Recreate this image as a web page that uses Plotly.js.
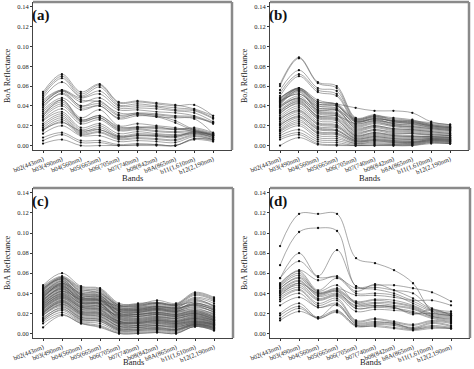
<!DOCTYPE html>
<html>
<head>
<meta charset="utf-8">
<script src="https://cdn.plot.ly/plotly-3.0.1.min.js"></script>
<style>html,body{margin:0;padding:0;background:#fff;}#chart{width:474px;height:369px;}</style>
</head>
<body>
<div id="chart"></div>
<script>
var bandLabels = ["b02(443nm)","b03(490nm)","b04(560nm)","b05(665nm)","b06(705nm)","b07(740nm)","b08(842nm)","b8A(865nm)","b11(1,610nm)","b12(2,190nm)"];
var panelLabels = ["(a)","(b)","(c)","(d)"];
var yTicks = [0,0.02,0.04,0.06,0.08,0.10,0.12,0.14];

var seriesA = [
[0.054,0.072,0.054,0.062,0.044,0.045,0.043,0.041,0.037,0.030],
[0.052,0.070,0.052,0.061,0.043,0.044,0.042,0.040,0.041,0.030],
[0.050,0.068,0.050,0.059,0.041,0.042,0.040,0.038,0.036,0.028],
[0.048,0.064,0.049,0.055,0.040,0.040,0.039,0.036,0.035,0.027],
[0.044,0.056,0.048,0.052,0.038,0.038,0.037,0.035,0.033,0.024],
[0.046,0.056,0.044,0.048,0.036,0.036,0.034,0.033,0.030,0.023],
[0.042,0.055,0.040,0.045,0.031,0.033,0.032,0.030,0.029,0.022],
[0.040,0.052,0.038,0.040,0.028,0.032,0.030,0.025,0.016,0.012],
[0.036,0.048,0.036,0.040,0.027,0.030,0.029,0.023,0.015,0.011],
[0.034,0.046,0.028,0.036,0.020,0.022,0.020,0.018,0.014,0.010],
[0.032,0.044,0.026,0.030,0.018,0.019,0.018,0.017,0.017,0.012],
[0.030,0.042,0.025,0.028,0.017,0.018,0.017,0.016,0.016,0.011],
[0.028,0.040,0.024,0.028,0.016,0.017,0.015,0.014,0.015,0.010],
[0.026,0.037,0.022,0.026,0.015,0.016,0.014,0.013,0.014,0.011],
[0.025,0.034,0.018,0.022,0.012,0.014,0.012,0.011,0.013,0.010],
[0.022,0.032,0.016,0.020,0.010,0.012,0.011,0.010,0.012,0.009],
[0.020,0.030,0.014,0.018,0.009,0.011,0.010,0.009,0.013,0.008],
[0.018,0.028,0.013,0.016,0.008,0.010,0.009,0.008,0.012,0.008],
[0.016,0.026,0.012,0.014,0.007,0.008,0.007,0.006,0.011,0.007],
[0.015,0.024,0.011,0.013,0.006,0.007,0.006,0.005,0.010,0.006],
[0.012,0.020,0.010,0.010,0.004,0.005,0.004,0.003,0.009,0.006],
[0.008,0.013,0.005,0.005,0.001,0.002,0.001,0.000,0.007,0.005],
[0.005,0.011,0.003,0.003,0.000,0.001,0.001,0.000,0.006,0.004],
[0.002,0.006,0.000,0.000,0.000,0.000,0.000,0.000,0.007,0.006],
[0.042,0.055,0.046,0.044,0.033,0.032,0.031,0.029,0.028,0.023],
[0.038,0.053,0.040,0.042,0.030,0.031,0.029,0.028,0.027,0.012],
[0.030,0.046,0.026,0.030,0.019,0.018,0.019,0.016,0.018,0.013],
[0.016,0.023,0.015,0.016,0.009,0.010,0.010,0.009,0.014,0.010]
];

var seriesB = [
[0.062,0.089,0.064,0.060,0.028,0.031,0.026,0.025,0.023,0.021],
[0.060,0.088,0.063,0.058,0.027,0.030,0.025,0.024,0.022,0.020],
[0.056,0.076,0.058,0.055,0.026,0.029,0.024,0.023,0.021,0.019],
[0.053,0.072,0.056,0.052,0.025,0.028,0.024,0.022,0.020,0.018],
[0.050,0.070,0.054,0.050,0.024,0.027,0.022,0.021,0.019,0.017],
[0.048,0.058,0.046,0.042,0.038,0.035,0.035,0.033,0.024,0.021],
[0.047,0.058,0.042,0.040,0.024,0.026,0.022,0.020,0.018,0.016],
[0.046,0.057,0.040,0.038,0.022,0.025,0.021,0.019,0.017,0.015],
[0.045,0.056,0.038,0.036,0.020,0.023,0.020,0.018,0.016,0.014],
[0.044,0.055,0.036,0.035,0.019,0.022,0.019,0.017,0.015,0.013],
[0.042,0.054,0.035,0.033,0.018,0.020,0.017,0.016,0.014,0.012],
[0.040,0.050,0.034,0.032,0.016,0.019,0.016,0.015,0.013,0.011],
[0.038,0.048,0.032,0.030,0.015,0.018,0.015,0.014,0.012,0.010],
[0.036,0.046,0.030,0.028,0.014,0.016,0.014,0.013,0.011,0.010],
[0.034,0.045,0.029,0.027,0.012,0.015,0.012,0.012,0.010,0.009],
[0.032,0.043,0.027,0.025,0.011,0.013,0.011,0.010,0.009,0.008],
[0.030,0.040,0.025,0.023,0.010,0.012,0.010,0.009,0.009,0.008],
[0.028,0.038,0.023,0.021,0.009,0.011,0.009,0.008,0.008,0.007],
[0.026,0.036,0.021,0.019,0.008,0.010,0.008,0.007,0.008,0.007],
[0.024,0.034,0.019,0.018,0.007,0.009,0.007,0.006,0.007,0.006],
[0.022,0.032,0.018,0.016,0.006,0.008,0.006,0.005,0.007,0.006],
[0.020,0.030,0.016,0.015,0.005,0.007,0.005,0.004,0.006,0.005],
[0.018,0.028,0.014,0.013,0.004,0.006,0.004,0.003,0.006,0.005],
[0.016,0.026,0.012,0.011,0.003,0.005,0.003,0.003,0.005,0.004],
[0.014,0.022,0.010,0.009,0.002,0.004,0.003,0.002,0.005,0.004],
[0.012,0.020,0.008,0.007,0.002,0.003,0.002,0.002,0.004,0.003],
[0.010,0.016,0.006,0.005,0.001,0.002,0.001,0.001,0.004,0.003],
[0.008,0.013,0.004,0.003,0.000,0.001,0.001,0.001,0.003,0.002],
[0.006,0.011,0.002,0.001,0.000,0.000,0.000,0.000,0.003,0.002],
[0.000,0.008,0.001,0.000,0.000,0.000,0.000,0.000,0.002,0.002],
[0.045,0.052,0.040,0.040,0.026,0.029,0.027,0.025,0.020,0.018],
[0.040,0.048,0.036,0.036,0.024,0.027,0.025,0.024,0.019,0.017],
[0.043,0.058,0.044,0.042,0.027,0.030,0.028,0.026,0.021,0.019],
[0.035,0.044,0.030,0.030,0.022,0.025,0.023,0.022,0.018,0.016],
[0.048,0.057,0.044,0.041,0.021,0.024,0.020,0.019,0.017,0.015],
[0.044,0.052,0.038,0.037,0.017,0.020,0.017,0.016,0.014,0.012],
[0.039,0.047,0.033,0.031,0.013,0.016,0.013,0.012,0.011,0.010],
[0.033,0.042,0.028,0.026,0.010,0.013,0.010,0.009,0.009,0.008],
[0.027,0.035,0.022,0.020,0.007,0.009,0.007,0.006,0.007,0.006],
[0.021,0.029,0.017,0.015,0.005,0.006,0.005,0.004,0.006,0.005],
[0.015,0.024,0.013,0.012,0.004,0.005,0.004,0.003,0.005,0.004],
[0.041,0.056,0.042,0.041,0.025,0.027,0.025,0.023,0.020,0.018]
];

var seriesC = [
[0.048,0.060,0.047,0.045,0.030,0.029,0.033,0.030,0.041,0.036],
[0.047,0.057,0.046,0.044,0.029,0.030,0.031,0.029,0.040,0.035],
[0.046,0.056,0.045,0.042,0.028,0.029,0.030,0.028,0.038,0.033],
[0.045,0.055,0.044,0.040,0.028,0.028,0.030,0.028,0.036,0.032],
[0.044,0.054,0.042,0.040,0.027,0.027,0.029,0.027,0.035,0.030],
[0.043,0.053,0.040,0.039,0.026,0.026,0.028,0.026,0.033,0.028],
[0.042,0.052,0.039,0.038,0.025,0.026,0.027,0.025,0.030,0.026],
[0.041,0.050,0.038,0.036,0.024,0.025,0.026,0.024,0.028,0.024],
[0.040,0.049,0.036,0.035,0.023,0.024,0.025,0.023,0.026,0.022],
[0.039,0.048,0.035,0.034,0.022,0.023,0.024,0.022,0.024,0.020],
[0.038,0.047,0.034,0.033,0.021,0.022,0.023,0.021,0.023,0.019],
[0.037,0.046,0.033,0.032,0.020,0.021,0.022,0.020,0.022,0.018],
[0.036,0.045,0.032,0.031,0.019,0.020,0.021,0.019,0.021,0.017],
[0.035,0.044,0.031,0.030,0.018,0.019,0.020,0.018,0.020,0.016],
[0.034,0.043,0.030,0.029,0.017,0.018,0.019,0.017,0.019,0.015],
[0.033,0.042,0.029,0.028,0.016,0.017,0.018,0.016,0.018,0.014],
[0.032,0.041,0.028,0.027,0.015,0.016,0.017,0.015,0.017,0.013],
[0.031,0.040,0.027,0.026,0.014,0.015,0.016,0.014,0.016,0.013],
[0.030,0.039,0.026,0.025,0.013,0.014,0.015,0.013,0.015,0.012],
[0.029,0.038,0.025,0.024,0.012,0.013,0.014,0.012,0.014,0.011],
[0.028,0.037,0.024,0.023,0.011,0.012,0.013,0.011,0.013,0.010],
[0.027,0.036,0.023,0.022,0.010,0.011,0.012,0.010,0.012,0.010],
[0.026,0.035,0.022,0.021,0.010,0.010,0.011,0.010,0.012,0.009],
[0.025,0.034,0.021,0.020,0.009,0.009,0.010,0.009,0.011,0.009],
[0.024,0.033,0.020,0.019,0.008,0.008,0.009,0.008,0.011,0.008],
[0.023,0.032,0.019,0.018,0.007,0.008,0.008,0.007,0.010,0.008],
[0.022,0.031,0.018,0.017,0.007,0.007,0.008,0.007,0.010,0.007],
[0.021,0.030,0.017,0.016,0.006,0.006,0.007,0.006,0.009,0.007],
[0.020,0.029,0.016,0.015,0.005,0.006,0.006,0.005,0.009,0.006],
[0.019,0.028,0.015,0.014,0.004,0.005,0.005,0.004,0.009,0.006],
[0.018,0.027,0.014,0.013,0.004,0.004,0.005,0.004,0.008,0.005],
[0.016,0.025,0.013,0.012,0.003,0.003,0.004,0.003,0.008,0.005],
[0.014,0.023,0.012,0.010,0.002,0.002,0.003,0.002,0.008,0.004],
[0.012,0.021,0.011,0.008,0.001,0.001,0.002,0.001,0.007,0.004],
[0.010,0.019,0.010,0.007,0.000,0.000,0.001,0.000,0.007,0.003],
[0.006,0.018,0.010,0.006,0.000,0.000,0.001,0.000,0.007,0.003],
[0.030,0.042,0.034,0.033,0.027,0.027,0.030,0.028,0.031,0.024],
[0.035,0.050,0.037,0.037,0.025,0.024,0.027,0.026,0.034,0.027],
[0.028,0.040,0.030,0.030,0.024,0.024,0.026,0.025,0.028,0.021],
[0.040,0.052,0.036,0.033,0.020,0.021,0.024,0.022,0.027,0.021],
[0.025,0.036,0.026,0.025,0.018,0.019,0.021,0.019,0.022,0.016],
[0.033,0.045,0.031,0.030,0.015,0.014,0.016,0.015,0.018,0.013],
[0.045,0.054,0.038,0.036,0.018,0.017,0.019,0.017,0.020,0.015],
[0.022,0.033,0.022,0.021,0.012,0.012,0.014,0.012,0.015,0.011],
[0.038,0.048,0.032,0.030,0.012,0.011,0.013,0.012,0.016,0.012],
[0.044,0.056,0.041,0.041,0.026,0.025,0.027,0.025,0.029,0.023],
[0.041,0.051,0.040,0.038,0.022,0.021,0.023,0.021,0.025,0.019],
[0.037,0.047,0.035,0.034,0.020,0.019,0.021,0.019,0.023,0.017],
[0.034,0.044,0.033,0.032,0.019,0.019,0.020,0.018,0.021,0.016],
[0.031,0.042,0.030,0.029,0.016,0.015,0.017,0.015,0.019,0.014],
[0.029,0.039,0.028,0.027,0.014,0.013,0.015,0.013,0.017,0.013],
[0.027,0.037,0.026,0.024,0.012,0.011,0.013,0.011,0.015,0.011],
[0.024,0.035,0.024,0.023,0.011,0.010,0.012,0.010,0.014,0.010],
[0.021,0.031,0.021,0.020,0.009,0.008,0.010,0.008,0.012,0.009],
[0.018,0.029,0.019,0.017,0.007,0.006,0.008,0.006,0.011,0.008],
[0.015,0.026,0.016,0.014,0.005,0.004,0.006,0.004,0.010,0.006],
[0.013,0.024,0.014,0.012,0.003,0.003,0.004,0.003,0.009,0.005],
[0.039,0.050,0.039,0.037,0.024,0.023,0.025,0.023,0.032,0.027],
[0.036,0.049,0.036,0.035,0.023,0.023,0.025,0.024,0.030,0.025],
[0.032,0.046,0.034,0.033,0.022,0.022,0.024,0.022,0.029,0.023],
[0.043,0.055,0.043,0.043,0.028,0.028,0.031,0.029,0.039,0.034],
[0.026,0.038,0.027,0.027,0.017,0.017,0.019,0.017,0.020,0.014],
[0.020,0.032,0.020,0.019,0.010,0.010,0.011,0.009,0.013,0.009]
];

var seriesD = [
[0.087,0.119,0.119,0.119,0.075,0.070,0.063,0.050,0.022,0.018],
[0.068,0.101,0.105,0.102,0.047,0.048,0.048,0.045,0.041,0.032],
[0.055,0.080,0.057,0.083,0.047,0.044,0.040,0.033,0.033,0.028],
[0.055,0.072,0.056,0.056,0.045,0.046,0.043,0.040,0.025,0.022],
[0.050,0.063,0.053,0.057,0.042,0.049,0.043,0.035,0.024,0.020],
[0.049,0.062,0.043,0.055,0.040,0.040,0.038,0.030,0.022,0.019],
[0.048,0.060,0.041,0.045,0.038,0.038,0.036,0.032,0.023,0.020],
[0.047,0.058,0.040,0.044,0.032,0.034,0.033,0.028,0.020,0.018],
[0.045,0.055,0.039,0.043,0.031,0.033,0.031,0.027,0.019,0.017],
[0.043,0.053,0.038,0.042,0.030,0.031,0.030,0.026,0.018,0.016],
[0.042,0.052,0.037,0.040,0.028,0.030,0.028,0.025,0.017,0.015],
[0.041,0.050,0.035,0.039,0.027,0.028,0.027,0.024,0.017,0.014],
[0.040,0.048,0.034,0.038,0.025,0.026,0.025,0.022,0.016,0.013],
[0.038,0.046,0.033,0.037,0.022,0.024,0.023,0.021,0.015,0.012],
[0.036,0.044,0.030,0.035,0.013,0.015,0.012,0.009,0.013,0.011],
[0.034,0.043,0.028,0.033,0.012,0.014,0.011,0.008,0.012,0.010],
[0.032,0.040,0.026,0.030,0.011,0.012,0.010,0.006,0.011,0.008],
[0.028,0.036,0.026,0.028,0.010,0.011,0.010,0.005,0.010,0.007],
[0.020,0.030,0.016,0.029,0.009,0.010,0.009,0.005,0.008,0.006],
[0.018,0.027,0.015,0.022,0.008,0.009,0.008,0.004,0.007,0.005],
[0.015,0.025,0.015,0.021,0.007,0.008,0.006,0.004,0.006,0.005],
[0.013,0.022,0.016,0.023,0.008,0.007,0.005,0.003,0.005,0.005],
[0.045,0.056,0.042,0.048,0.030,0.028,0.026,0.020,0.020,0.018],
[0.038,0.050,0.040,0.042,0.025,0.027,0.026,0.019,0.024,0.018]
];

var W = 474, H = 369;
var allSeries = [seriesA, seriesB, seriesC, seriesD];
// panel pixel boxes: [left, right, top, bottom]
var boxes = [[33,232,2,150],[270,469,2,150],[33,233,188,338],[270,470,188,338]];
var titleY = [178, 178, 362, 362];
var bandIdx = bandLabels.map(function(_, i){ return i; });

var traces = [];
allSeries.forEach(function(set, p){
  var ax = p === 0 ? '' : String(p+1);
  set.forEach(function(vals){
    traces.push({
      type:'scatter', mode:'lines+markers', x: bandIdx, y: vals,
      xaxis:'x'+ax, yaxis:'y'+ax, showlegend:false, hoverinfo:'skip',
      line:{shape:'spline', smoothing:1, color:'rgba(80,80,80,0.7)', width:0.7},
      marker:{size:2.3, color:'#111'}
    });
  });
});

var fontT = {family:'Liberation Serif, Times New Roman, serif', size:6.5, color:'#222'};
var layout = {
  width:W, height:H, margin:{l:0,r:0,t:0,b:0},
  paper_bgcolor:'#fff', plot_bgcolor:'#fff', showlegend:false,
  shapes:[], annotations:[]
};
boxes.forEach(function(b, p){
  var ax = p === 0 ? '' : String(p+1);
  layout['xaxis'+ax] = {
    domain:[b[0]/W, b[1]/W], anchor:'y'+ax, range:[-0.53, 10.0],
    tickvals: bandIdx, ticktext: bandLabels, tickangle:-22,
    tickfont: fontT, ticks:'outside', ticklen:2, tickcolor:'#333',
    showgrid:false, zeroline:false, showline:true, linecolor:'#444', linewidth:1, fixedrange:true
  };
  layout['yaxis'+ax] = {
    domain:[1-b[3]/H, 1-b[2]/H], anchor:'x'+ax, range:[-0.0045, 0.1448],
    tickvals: yTicks, tickformat:'.2f', tickfont: fontT, ticks:'outside', ticklen:2, tickcolor:'#333',
    showgrid:false, zeroline:false, showline:true, linecolor:'#444', linewidth:1, fixedrange:true
  };
  layout.shapes.push({type:'line', xref:'paper', yref:'paper', x0:b[0]/W, x1:b[1]/W, y0:1-b[2]/H, y1:1-b[2]/H, line:{color:'#8a8a8a', width:2.5}});
  layout.shapes.push({type:'line', xref:'paper', yref:'paper', x0:b[1]/W, x1:b[1]/W, y0:1-b[2]/H, y1:1-b[3]/H, line:{color:'#8a8a8a', width:2.5}});
  layout.annotations.push({text:panelLabels[p], xref:'paper', yref:'paper', x:(b[0]-3)/W, y:1-(b[2]+13)/H, xanchor:'left', yanchor:'middle', showarrow:false,
    font:{family:'Liberation Serif, serif', size:15, color:'#111', weight:'bold'}});
  layout.annotations.push({text:'Bands', xref:'paper', yref:'paper', x:(b[0]+b[1])/2/W, y:1-titleY[p]/H, xanchor:'center', yanchor:'middle', showarrow:false,
    font:{family:'Liberation Serif, serif', size:8.5, color:'#222'}});
  layout.annotations.push({text:'BoA Reflectance', xref:'paper', yref:'paper', x:(b[0]-26)/W, y:1-((b[2]+b[3])/2)/H, xanchor:'center', yanchor:'middle', textangle:-90, showarrow:false,
    font:{family:'Liberation Serif, serif', size:8, color:'#222'}});
});

Plotly.newPlot('chart', traces, layout, {staticPlot:true, displayModeBar:false});
</script>
</body>
</html>
